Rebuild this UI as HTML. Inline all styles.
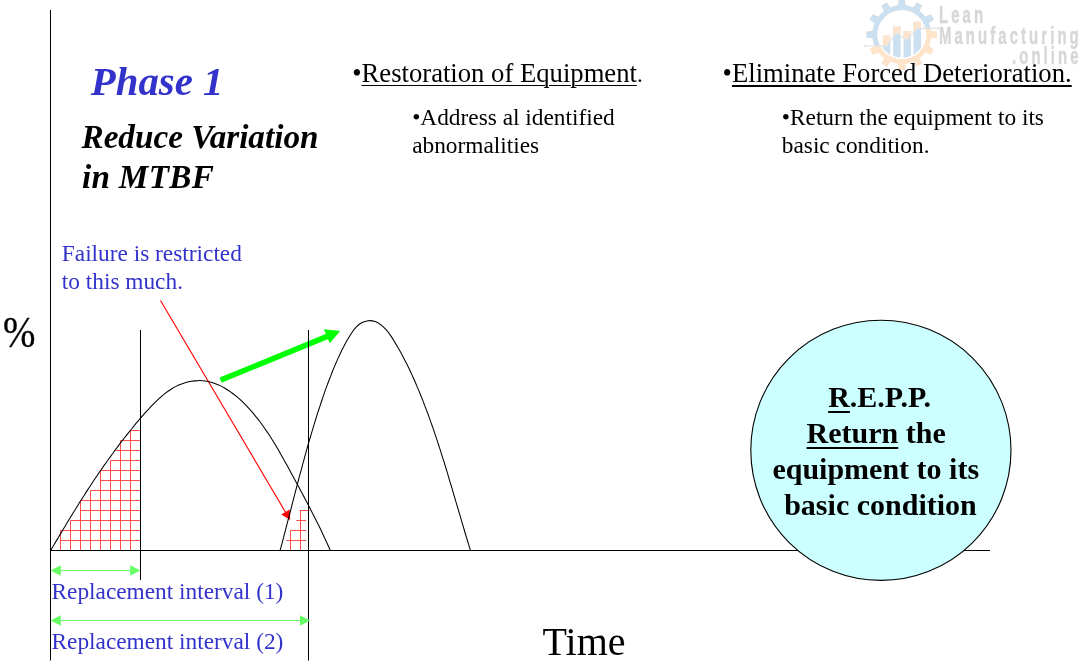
<!DOCTYPE html>
<html lang="en">
<head>
<meta charset="utf-8">
<title>Phase 1 - Reduce Variation in MTBF</title>
<style>
html,body{margin:0;padding:0;background:#fff;}
body{width:1079px;height:667px;position:relative;overflow:hidden;font-family:"Liberation Serif",serif;color:#000;}
#gfx{position:absolute;left:0;top:0;width:1079px;height:667px;}
.t{position:absolute;white-space:nowrap;line-height:1;margin:0;padding:0;}
.blue{color:#3333cc;}
.bi{font-weight:bold;font-style:italic;}
.h{font-size:26.67px;}
.b{font-size:23.33px;}
.u{text-decoration:underline;text-decoration-thickness:1.4px;text-underline-offset:2.6px;}
.c{font-size:30px;font-weight:bold;}
.wm{position:absolute;white-space:nowrap;line-height:1;font-family:"Liberation Sans",sans-serif;color:#d7d7d7;font-weight:bold;font-size:24px;transform-origin:0 0;transform:scaleX(0.62);letter-spacing:5px;-webkit-text-stroke:0.5px #d7d7d7;}
</style>
</head>
<body>
<svg id="gfx" width="1079" height="667" viewBox="0 0 1079 667">
  <!-- watermark logo -->
  <g id="logo">
    <defs>
      <clipPath id="above"><polygon points="850,-10 850,45.9 886.5,45.9 896.6,32.9 906.7,39.7 917.4,28.4 960,28.4 960,-10"/></clipPath>
      <clipPath id="inner"><circle cx="901.8" cy="34.6" r="23.2"/></clipPath>
      <path id="gear" fill-rule="evenodd" d="M898.1,5.3 L898.7,-0.7 L904.9,-0.7 L905.5,5.3 A29.5,29.5 0 0 1 913.2,7.4 L916.8,2.5 L922.1,5.6 L919.6,11.1 A29.5,29.5 0 0 1 925.3,16.8 L930.8,14.3 L933.9,19.6 L929.0,23.2 A29.5,29.5 0 0 1 931.1,30.9 L937.1,31.5 L937.1,37.7 L931.1,38.3 A29.5,29.5 0 0 1 929.0,46.0 L933.9,49.6 L930.8,54.9 L925.3,52.4 A29.5,29.5 0 0 1 919.6,58.1 L922.1,63.6 L916.8,66.7 L913.2,61.8 A29.5,29.5 0 0 1 905.5,63.9 L904.9,69.9 L898.7,69.9 L898.1,63.9 A29.5,29.5 0 0 1 890.4,61.8 L886.8,66.7 L881.5,63.6 L884.0,58.1 A29.5,29.5 0 0 1 878.3,52.4 L872.8,54.9 L869.7,49.6 L874.6,46.0 A29.5,29.5 0 0 1 872.5,38.3 L866.5,37.7 L866.5,31.5 L872.5,30.9 A29.5,29.5 0 0 1 874.6,23.2 L869.7,19.6 L872.8,14.3 L878.3,16.8 A29.5,29.5 0 0 1 884.0,11.1 L881.5,5.6 L886.8,2.5 L890.4,7.4 A29.5,29.5 0 0 1 898.1,5.3Z M877.2,34.6A24.6,24.6 0 1 0 926.4,34.6A24.6,24.6 0 1 0 877.2,34.6Z"/>
      <path id="bars" d="M882.9,35.5h7.3v30h-7.3z M893.2,26.5h7.4v40h-7.4z M903.5,31.2h7.4v36h-7.4z M913.5,21.8h7.5v40h-7.5z"/>
    </defs>
    <use href="#gear" fill="#fde4cb"/>
    <use href="#gear" fill="#cbe0f1" clip-path="url(#above)"/>
    <g clip-path="url(#inner)">
      <use href="#bars" fill="#cbe0f1"/>
      <use href="#bars" fill="#fde4cb" clip-path="url(#above)"/>
    </g>
    <polyline points="865.1,45.9 886.5,45.9 896.6,32.9 906.7,39.7 917.4,28.4 938.2,28.4" fill="none" stroke="#e4e4e4" stroke-width="1.2" stroke-linejoin="round"/>
    <g fill="#e4e4e4"><circle cx="865.1" cy="45.9" r="1.2"/><circle cx="886.5" cy="45.9" r="1.3"/><circle cx="896.6" cy="32.9" r="1.3"/><circle cx="906.7" cy="39.7" r="1.3"/><circle cx="917.4" cy="28.4" r="1.3"/><circle cx="938.2" cy="28.4" r="1.2"/></g>
  </g>
  <!-- red arrow -->
  <line x1="160.5" y1="300.5" x2="286" y2="513" stroke="#ff0000" stroke-width="1.1"/>
  <polygon points="290.2,520 281.3,514.4 289.7,509.4" fill="#ff0000"/>
  <!-- green thick arrow -->
  <line x1="220.6" y1="380.1" x2="328.5" y2="335.9" stroke="#00ff00" stroke-width="5.5"/>
  <polygon points="340.2,331 323.9,329.2 329.7,343.2" fill="#00ff00"/>
  <!-- hatching -->
  <g stroke="#ff4d4d" stroke-width="1" fill="none" id="hatch">
    <path d="M60.5,530.5V551 M70.5,520.5V551 M80.5,500.5V551 M90.5,490.5V551 M100.5,470.5V551 M110.5,460.5V551 M120.5,440.5V551 M130.5,430.5V551 M130.5,430.5H140 M120.5,440.5H140 M115.7,450.5H140 M110.5,460.5H140 M100.5,470.5H140 M100.5,480.5H140 M90.5,490.5H140 M80.5,500.5H140 M80.5,510.5H140 M70.5,520.5H140 M60.5,530.5H140 M60.5,540.5H140"/>
    <path d="M290.5,530.5V551 M300.5,510.5V551 M299.5,510.5H309.6 M296.3,520.5H306.2 M290.5,530.5H306.2 M286.4,540.5H306.2"/>
  </g>
  <!-- axes -->
  <g stroke="#000" stroke-width="1" fill="none">
    <line x1="50.5" y1="10" x2="50.5" y2="660.5"/>
    <line x1="50" y1="550.5" x2="990" y2="550.5"/>
    <line x1="140.5" y1="330" x2="140.5" y2="580"/>
    <line x1="308.5" y1="330" x2="308.5" y2="660.5"/>
    <path stroke-width="1.05" d="M50.6,550.5 C51.2,549.5 53.0,546.4 54.3,544.3 C55.5,542.2 56.7,540.1 58.0,538.1 C59.2,536.0 60.4,533.9 61.7,531.9 C62.9,529.8 64.1,527.7 65.4,525.7 C66.6,523.6 67.9,521.6 69.1,519.5 C70.4,517.4 71.6,515.4 72.9,513.3 C74.2,511.3 75.4,509.2 76.7,507.2 C78.0,505.1 79.3,503.1 80.5,501.1 C81.8,499.0 83.1,497.0 84.4,495.0 C85.7,492.9 87.0,490.9 88.3,488.9 C89.7,486.9 91.0,484.8 92.3,482.8 C93.6,480.8 95.0,478.8 96.3,476.8 C97.7,474.8 99.0,472.8 100.4,470.8 C101.7,468.9 103.1,466.9 104.5,464.9 C105.9,462.9 107.3,461.0 108.7,459.0 C110.1,457.1 111.5,455.1 112.9,453.2 C114.3,451.2 115.7,449.3 117.2,447.4 C118.6,445.4 120.1,443.5 121.5,441.6 C123.0,439.7 124.5,437.8 126.0,435.9 C127.4,434.0 128.9,432.1 130.5,430.3 C132.0,428.4 133.5,426.6 135.0,424.7 C136.6,422.9 138.1,421.0 139.7,419.2 C141.3,417.4 142.8,415.5 144.4,413.7 C146.0,412.0 147.6,410.2 149.3,408.4 C150.9,406.6 152.6,404.9 154.3,403.2 C156.0,401.5 157.8,399.8 159.6,398.2 C161.4,396.6 163.2,394.9 165.1,393.4 C167.0,391.9 169.0,390.5 171.1,389.2 C173.1,387.9 175.3,386.7 177.5,385.6 C179.7,384.6 182.0,383.7 184.3,383.0 C186.6,382.2 189.0,381.6 191.3,381.2 C193.7,380.8 196.1,380.6 198.4,380.6 C200.7,380.5 203.1,380.7 205.3,381.0 C207.6,381.3 209.9,381.9 212.1,382.5 C214.3,383.2 216.5,384.0 218.6,384.9 C220.7,385.9 222.9,387.0 224.9,388.2 C227.0,389.4 229.0,390.7 231.0,392.2 C233.0,393.6 234.9,395.1 236.8,396.7 C238.7,398.3 240.6,400.0 242.4,401.7 C244.2,403.5 246.0,405.3 247.7,407.1 C249.4,408.9 251.1,410.8 252.7,412.7 C254.3,414.6 255.8,416.5 257.4,418.4 C258.9,420.3 260.3,422.3 261.8,424.2 C263.2,426.2 264.6,428.1 265.9,430.1 C267.3,432.0 268.6,434.0 269.9,436.0 C271.1,438.0 272.4,440.0 273.6,442.0 C274.9,444.0 276.1,446.1 277.3,448.1 C278.4,450.1 279.6,452.2 280.8,454.2 C281.9,456.3 283.1,458.3 284.2,460.4 C285.4,462.5 286.5,464.6 287.7,466.6 C288.8,468.7 289.9,470.8 291.1,472.9 C292.2,475.0 293.4,477.2 294.5,479.3 C295.7,481.4 296.8,483.5 298.0,485.6 C299.1,487.8 300.3,489.9 301.4,492.1 C302.6,494.2 303.7,496.4 304.9,498.5 C306.0,500.7 307.1,502.8 308.3,505.0 C309.4,507.1 310.5,509.3 311.6,511.5 C312.7,513.6 313.8,515.8 314.9,518.0 C316.0,520.1 317.1,522.3 318.2,524.5 C319.3,526.6 320.3,528.8 321.4,531.0 C322.4,533.2 323.4,535.3 324.4,537.5 C325.5,539.7 326.4,541.8 327.4,544.0 C328.4,546.2 329.8,549.4 330.3,550.5"/>
    <path stroke-width="1.05" d="M280.1,550.5 C280.4,549.3 281.3,545.9 282.0,543.6 C282.6,541.2 283.2,538.9 283.8,536.6 C284.4,534.3 285.0,532.0 285.6,529.7 C286.2,527.3 286.8,525.0 287.4,522.7 C288.0,520.4 288.6,518.1 289.2,515.8 C289.8,513.4 290.4,511.1 291.0,508.8 C291.6,506.5 292.2,504.2 292.8,501.9 C293.4,499.6 294.0,497.3 294.6,494.9 C295.2,492.6 295.8,490.3 296.4,488.0 C297.0,485.7 297.6,483.4 298.2,481.1 C298.8,478.8 299.4,476.5 300.0,474.2 C300.7,471.9 301.3,469.6 301.9,467.3 C302.5,464.9 303.1,462.6 303.8,460.3 C304.4,458.0 305.0,455.7 305.7,453.4 C306.3,451.1 307.0,448.8 307.6,446.5 C308.3,444.2 308.9,441.9 309.6,439.7 C310.3,437.4 310.9,435.1 311.6,432.8 C312.3,430.5 313.0,428.2 313.7,425.9 C314.4,423.6 315.1,421.3 315.8,419.0 C316.5,416.7 317.2,414.5 317.9,412.2 C318.7,409.9 319.4,407.6 320.2,405.3 C320.9,403.1 321.7,400.8 322.5,398.5 C323.2,396.2 324.0,394.0 324.8,391.7 C325.6,389.4 326.4,387.2 327.3,384.9 C328.1,382.7 328.9,380.4 329.8,378.2 C330.7,376.0 331.5,373.7 332.4,371.5 C333.3,369.3 334.2,367.1 335.2,364.9 C336.1,362.8 337.0,360.6 338.0,358.4 C339.0,356.3 340.0,354.1 341.0,352.0 C342.1,349.9 343.1,347.8 344.2,345.7 C345.4,343.6 346.5,341.5 347.7,339.3 C349.0,337.2 350.2,335.1 351.6,333.0 C353.0,331.0 354.5,328.9 356.1,327.2 C357.8,325.5 359.6,323.9 361.6,322.8 C363.6,321.7 366.0,320.9 368.3,320.7 C370.5,320.5 373.0,320.8 375.2,321.5 C377.4,322.2 379.5,323.7 381.4,325.1 C383.3,326.6 384.9,328.4 386.5,330.2 C388.1,332.0 389.5,334.0 390.8,335.9 C392.2,337.9 393.5,340.0 394.7,342.1 C396.0,344.1 397.2,346.2 398.4,348.3 C399.6,350.4 400.8,352.5 401.9,354.6 C403.0,356.7 404.1,358.8 405.2,360.9 C406.3,363.1 407.4,365.2 408.4,367.3 C409.5,369.5 410.5,371.7 411.5,373.8 C412.5,376.0 413.4,378.2 414.4,380.3 C415.4,382.5 416.3,384.7 417.2,386.9 C418.2,389.1 419.1,391.3 420.0,393.5 C420.9,395.7 421.8,397.9 422.7,400.1 C423.5,402.4 424.4,404.6 425.2,406.8 C426.1,409.0 426.9,411.3 427.8,413.5 C428.6,415.8 429.4,418.0 430.2,420.3 C431.0,422.5 431.8,424.8 432.6,427.0 C433.4,429.3 434.2,431.5 434.9,433.8 C435.7,436.1 436.4,438.3 437.2,440.6 C437.9,442.9 438.7,445.2 439.4,447.4 C440.2,449.7 440.9,452.0 441.6,454.3 C442.3,456.6 443.0,458.8 443.8,461.1 C444.5,463.4 445.2,465.7 445.9,468.0 C446.6,470.3 447.3,472.6 448.0,474.9 C448.7,477.2 449.3,479.5 450.0,481.8 C450.7,484.1 451.4,486.4 452.1,488.7 C452.7,491.0 453.4,493.3 454.1,495.6 C454.8,497.8 455.5,500.1 456.1,502.4 C456.8,504.7 457.5,507.0 458.2,509.3 C458.8,511.6 459.5,513.9 460.2,516.2 C460.9,518.5 461.5,520.8 462.2,523.1 C462.9,525.4 463.6,527.7 464.3,530.0 C464.9,532.3 465.6,534.5 466.3,536.8 C467.0,539.1 467.7,541.4 468.4,543.7 C469.1,546.0 470.1,549.4 470.5,550.5"/>
  </g>
  <!-- interval arrows -->
  <g stroke="#66ff66" stroke-width="1" fill="#66ff66">
    <line x1="55" y1="570.5" x2="136" y2="570.5"/>
    <polygon points="50.5,570.5 60.8,565.3 60.8,575.7" stroke="none"/>
    <polygon points="140.5,570.5 130.2,565.3 130.2,575.7" stroke="none"/>
    <line x1="55" y1="620.5" x2="305" y2="620.5"/>
    <polygon points="50.5,620.5 60.8,615.3 60.8,625.7" stroke="none"/>
    <polygon points="310.2,620.5 300,615.3 300,625.7" stroke="none"/>
  </g>
  <!-- circle -->
  <circle cx="880.9" cy="450.3" r="130.1" fill="#ccffff" stroke="#000" stroke-width="1.1"/>
</svg>

<div class="t blue bi" style="left:90.8px;top:61.5px;font-size:40.8px;">Phase 1</div>
<div class="t bi" style="left:81.5px;top:119.6px;font-size:33.2px;">Reduce Variation</div>
<div class="t bi" style="left:82px;top:160.2px;font-size:33.2px;letter-spacing:0.3px;">in MTBF</div>

<div class="t h" style="left:352.2px;top:60.1px;">•<span class="u">Restoration of Equipment</span><span style="font-size:23.33px;">.</span></div>
<div class="t b" style="left:412.2px;top:105.8px;">•Address al identified</div>
<div class="t b" style="left:412.2px;top:134px;">abnormalities</div>

<div class="t h" style="left:722.6px;top:60.2px;">•<span class="u" style="text-decoration-thickness:1.7px;">Eliminate Forced Deterioration.</span></div>
<div class="t b" style="left:781.8px;top:105.9px;">•Return the equipment to its</div>
<div class="t b" style="left:781.8px;top:134.1px;">basic condition.</div>

<div class="t b blue" style="left:61.8px;top:241.9px;">Failure is restricted</div>
<div class="t b blue" style="left:61.8px;top:270.1px;">to this much.</div>

<div class="t" style="left:2.8px;top:310.1px;font-size:45px;transform-origin:0 0;transform:scaleX(0.865);-webkit-text-stroke:0.3px #000;">%</div>
<div class="t" style="left:542.5px;top:621.8px;font-size:40px;">Time</div>

<div class="t b blue" style="left:51.5px;top:579.7px;">Replacement interval (1)</div>
<div class="t b blue" style="left:51.5px;top:630.2px;">Replacement interval (2)</div>

<div class="t c" style="left:828.2px;top:382.1px;"><span class="u" style="text-decoration-thickness:1.8px;text-underline-offset:3.6px;">R</span>.E.P.P.</div>
<div class="t c" style="left:806.6px;top:418.2px;"><span class="u" style="text-decoration-thickness:1.8px;text-underline-offset:3.6px;">Return</span> the</div>
<div class="t c" style="left:772.4px;top:453.7px;">equipment to its</div>
<div class="t c" style="left:784.2px;top:489.7px;">basic condition</div>

<div class="wm" style="left:939.1px;top:3.3px;">Lean</div>
<div class="wm" style="left:939.1px;top:23.6px;">Manufacturing</div>
<div class="wm" style="left:1012.3px;top:43.7px;">.online</div>
</body>
</html>
